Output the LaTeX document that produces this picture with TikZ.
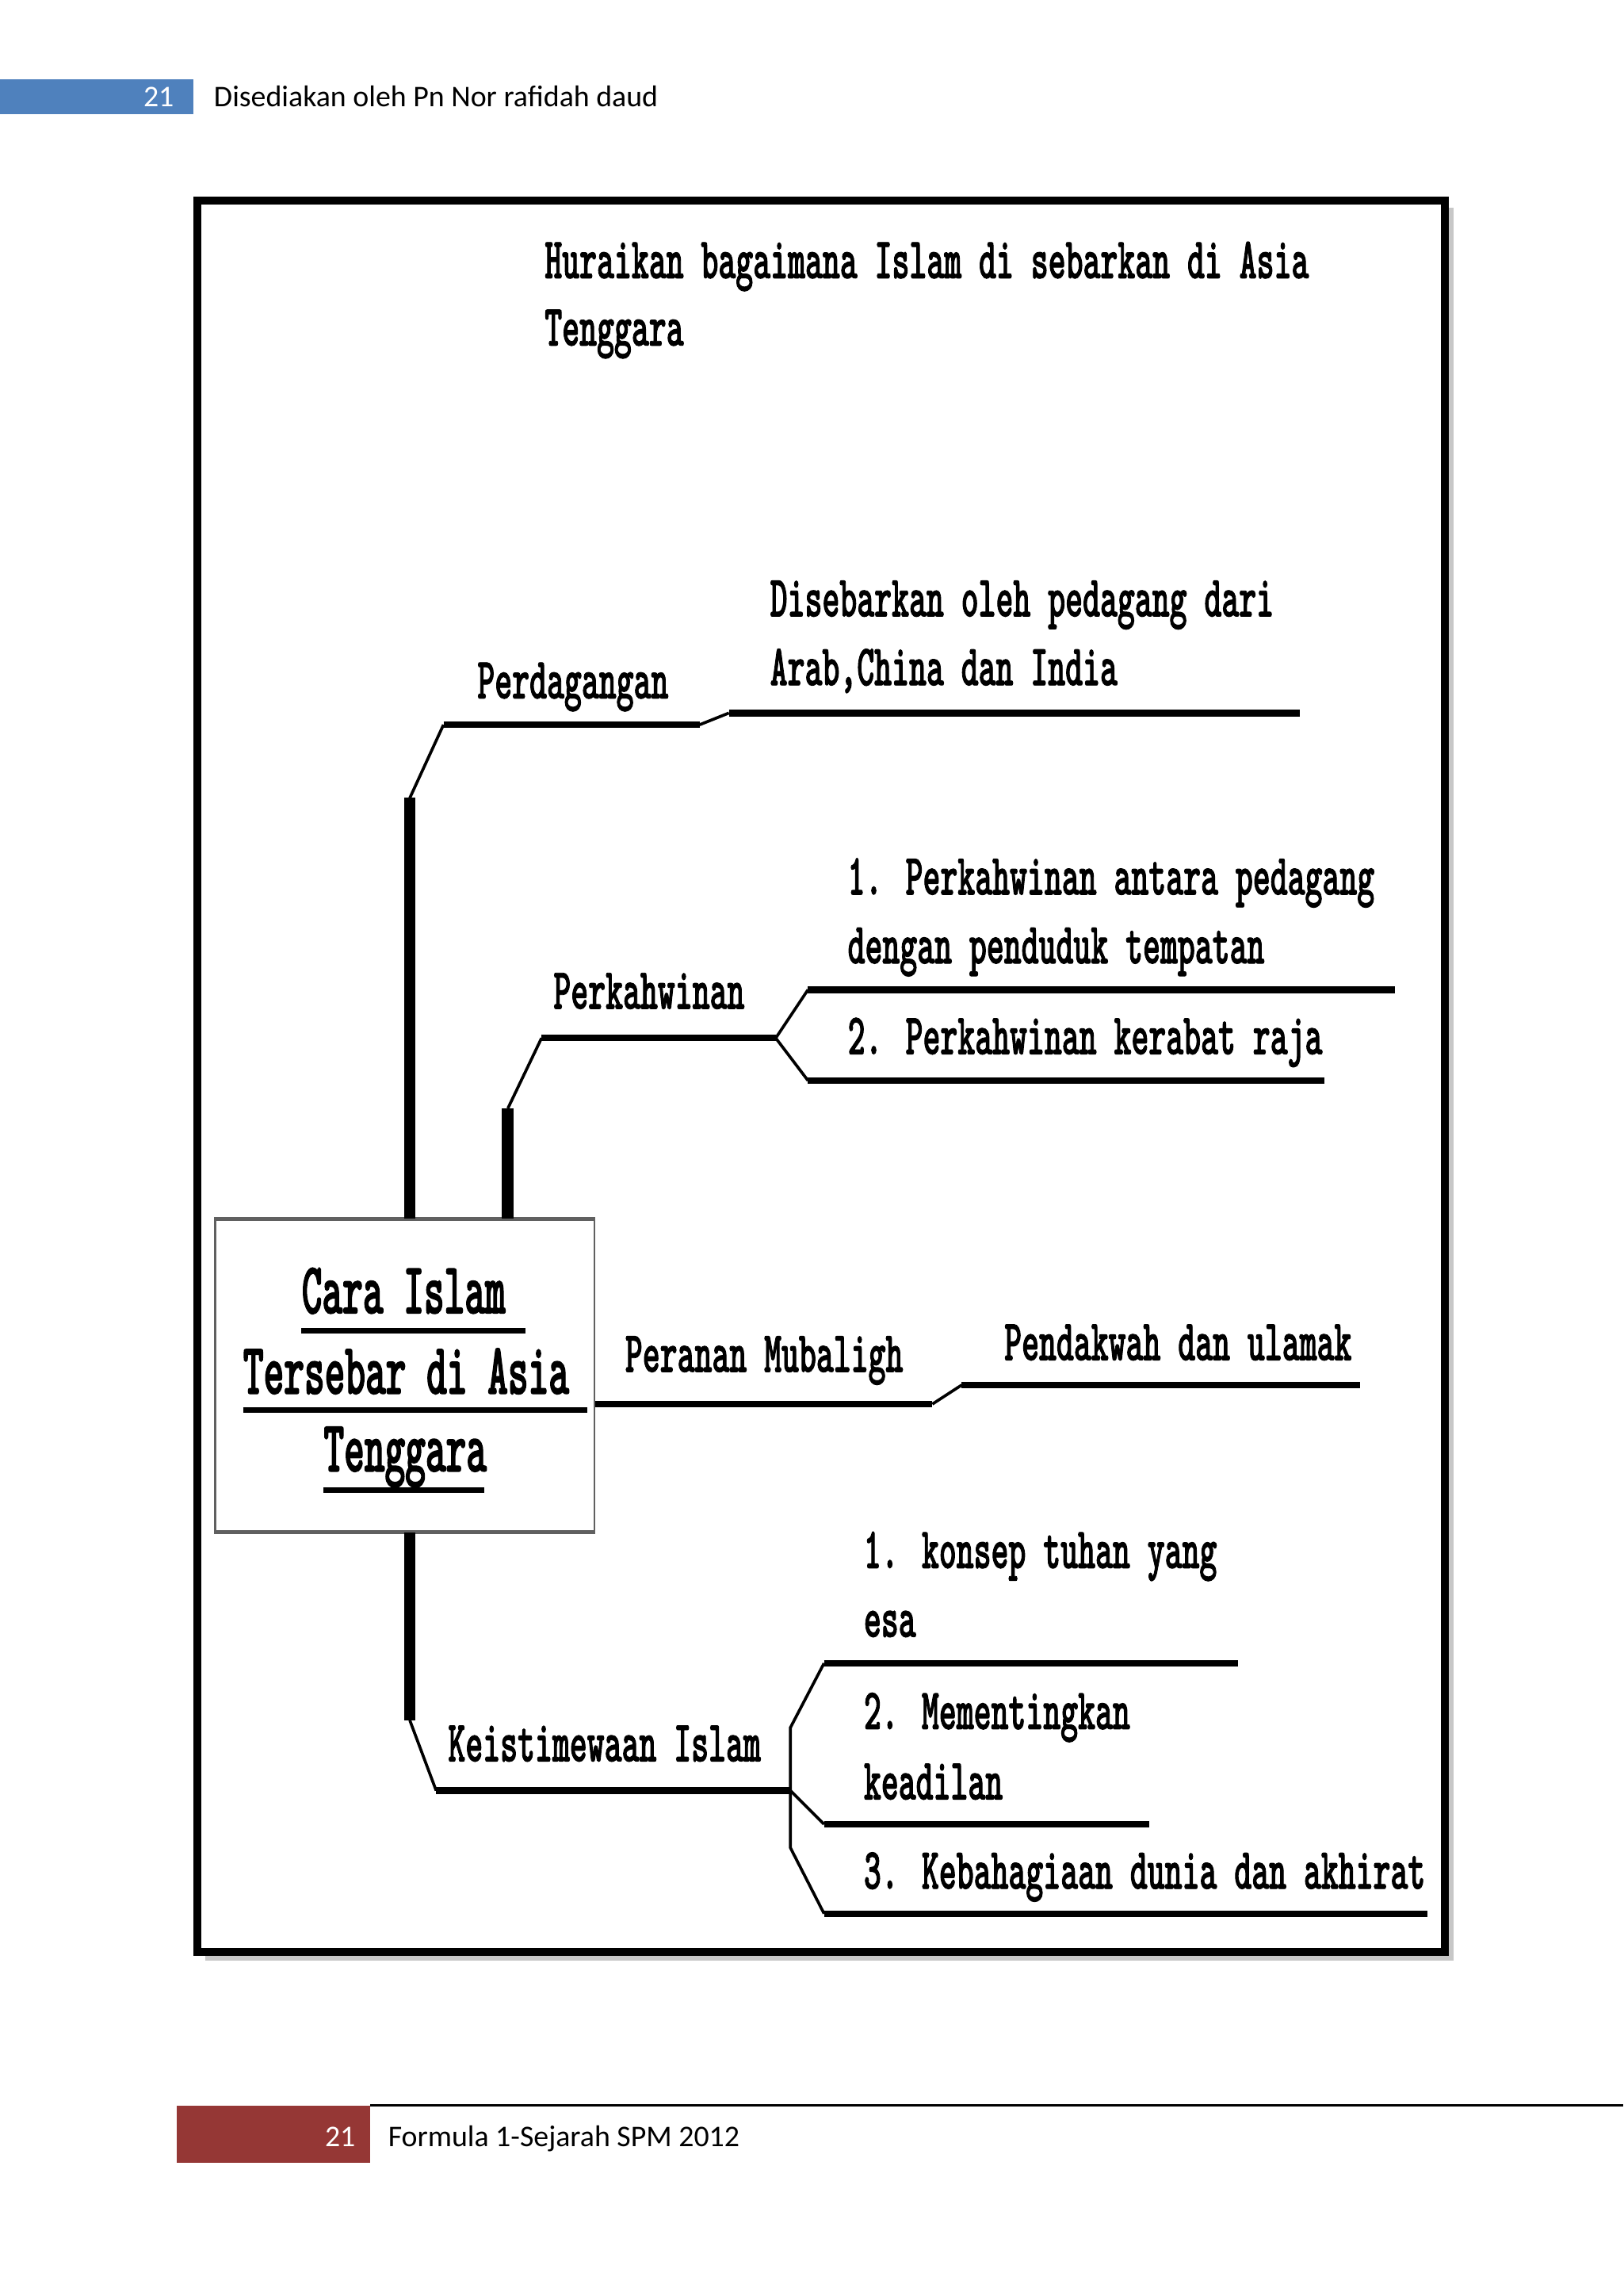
\documentclass[tikz,border=0pt]{standalone}
\usepackage{fontspec}
\newfontfamily\hdr{Carlito}
\newfontfamily\mono[FakeStretch=0.565,FakeBold=1.2]{lmmonolt10-bold.otf}
\newfontfamily\monobig[FakeStretch=0.53,FakeBold=1.4]{lmmonolt10-bold.otf}
\definecolor{hblue}{HTML}{4F81BD}
\definecolor{fred}{HTML}{953735}
\definecolor{boxgray}{HTML}{606060}
\tikzset{
  txt/.style={anchor=base west, inner sep=0pt, font={\mono\fontsize{40}{46}\selectfont}},
  ctxt/.style={anchor=base west, inner sep=0pt, font={\monobig\fontsize{50}{56}\selectfont}},
  hdtxt/.style={inner sep=0pt, font={\hdr\fontsize{20.5}{24}\selectfont}},
  trunk/.style={line width=8pt},
  barline/.style={line width=4.5pt},
  thinline/.style={line width=2pt},
  uline/.style={line width=3.8pt},
}
\begin{document}
\begin{tikzpicture}[x=1pt,y=1pt]
\useasboundingbox (0,0) rectangle (1109,-1568.2);
\fill[white] (0,0) rectangle (1109,-1568.2);
% header
\fill[hblue] (0,-54) rectangle (132,-78);
\node[hdtxt, anchor=base east, text=white] (hnum) at (119,-73) {21};
\node[hdtxt, anchor=base west] (htxt) at (146,-73) {Disediakan oleh Pn Nor rafidah daud};
% footer
\fill[fred] (121,-1438) rectangle (253,-1477);
\draw[line width=1.8pt] (253,-1438) -- (1109,-1438);
\node[hdtxt, anchor=base east, text=white] (fnum) at (243,-1466) {21};
\node[hdtxt, anchor=base west] (ftxt) at (265,-1466) {Formula 1-Sejarah SPM 2012};
% frame with soft shadow on right and bottom
\draw[line width=4pt, black!22] (991,-142) -- (991,-1337) -- (140,-1337);
\draw[line width=5.5pt] (135,-137) rectangle (987,-1333);
% title
\node[txt] (t1) at (372,-190) {Huraikan bagaimana Islam di sebarkan di Asia};
\node[txt] (t2) at (372,-236) {Tenggara};
% central box
\node[draw=boxgray, line width=1.3pt, minimum width=259pt, minimum height=213pt, inner sep=0pt] (cbox) at (276.5,-939.5) {};
\draw[line width=2.6pt, boxgray] (cbox.north west) -- (cbox.north east);
\draw[line width=2.6pt, boxgray] (cbox.south west) -- (cbox.south east);
\node[ctxt] (c1) at (206,-897) {Cara Islam};
\node[ctxt] (c2) at (166,-952) {Tersebar di Asia};
\node[ctxt] (c3) at (221,-1005) {Tenggara};
\draw[uline] (206,-909) -- (359,-909);
\draw[uline] (166,-963) -- (401,-963);
\draw[uline] (221,-1018) -- (331,-1018);
% Perdagangan
\coordinate (pa) at (280,-545);
\coordinate (pb) at (303,-495);
\coordinate (pc) at (478,-495);
\coordinate (pd) at (498,-487);
\coordinate (pe) at (888,-487);
\draw[trunk] (pa) -- (pa |- cbox.north);
\draw[thinline] (pa) -- (pb);
\draw[barline] (pb) -- (pc);
\draw[thinline] (pc) -- (pd);
\draw[barline] (pd) -- (pe);
\node[txt] (perd) at (326,-477) {Perdagangan};
\node[txt] (perdA) at (526,-421) {Disebarkan oleh pedagang dari};
\node[txt] (perdB) at (526,-468) {Arab,China dan India};
% Perkahwinan
\coordinate (ka) at (347,-757);
\coordinate (kb) at (370,-709);
\coordinate (kc) at (530,-709);
\coordinate (kd) at (552,-676);
\coordinate (ke) at (953,-676);
\coordinate (kf) at (552,-738);
\coordinate (kg) at (905,-738);
\draw[trunk] (ka) -- (ka |- cbox.north);
\draw[thinline] (ka) -- (kb);
\draw[barline] (kb) -- (kc);
\draw[thinline] (kc) -- (kd);
\draw[thinline] (kc) -- (kf);
\draw[barline] (kd) -- (ke);
\draw[barline] (kf) -- (kg);
\node[txt] (perk) at (378,-689) {Perkahwinan};
\node[txt] (perk1a) at (579,-611) {1. Perkahwinan antara pedagang};
\node[txt] (perk1b) at (579,-658) {dengan penduduk tempatan};
\node[txt] (perk2) at (579,-720) {2. Perkahwinan kerabat raja};
% Peranan Mubaligh
\coordinate (ma) at (cbox.east |- 0,-959);
\coordinate (mb) at (637,-959);
\coordinate (mc) at (657,-946);
\coordinate (md) at (929,-946);
\draw[barline] (ma) -- (mb);
\draw[thinline] (mb) -- (mc);
\draw[barline] (mc) -- (md);
\node[txt] (peran) at (427,-937) {Peranan Mubaligh};
\node[txt] (peranA) at (686,-929) {Pendakwah dan ulamak};
% Keistimewaan Islam
\coordinate (ia) at (280,-1175);
\coordinate (ib) at (298,-1223);
\coordinate (ic) at (540,-1223);
\coordinate (id) at (540,-1180);
\coordinate (ie) at (563,-1136);
\coordinate (if) at (846,-1136);
\coordinate (ig) at (563,-1246);
\coordinate (ih) at (785,-1246);
\coordinate (ii) at (540,-1262);
\coordinate (ij) at (563,-1307);
\coordinate (ik) at (975,-1307);
\draw[trunk] (ia |- cbox.south) -- (ia);
\draw[thinline] (ia) -- (ib);
\draw[barline] (ib) -- (ic);
\draw[thinline] (ic) -- (id) -- (ie);
\draw[thinline] (ic) -- (ig);
\draw[thinline] (ic) -- (ii) -- (ij);
\draw[barline] (ie) -- (if);
\draw[barline] (ig) -- (ih);
\draw[barline] (ij) -- (ik);
\node[txt] (keis) at (306,-1203) {Keistimewaan Islam};
\node[txt] (k1a) at (590,-1071) {1. konsep tuhan yang};
\node[txt] (k1b) at (590,-1118) {esa};
\node[txt] (k2a) at (590,-1181) {2. Mementingkan};
\node[txt] (k2b) at (590,-1229) {keadilan};
\node[txt] (k3) at (590,-1290) {3. Kebahagiaan dunia dan akhirat};
\end{tikzpicture}
\end{document}
